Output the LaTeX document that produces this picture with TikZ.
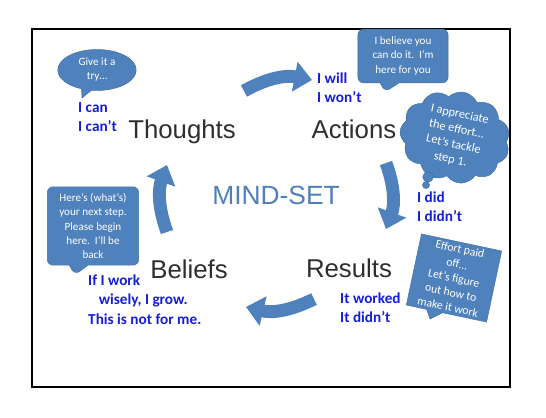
\documentclass[tikz,border=0pt]{standalone}
\usepackage{fontspec}
\setmainfont{Carlito}
\newfontfamily\arialfont{Liberation Sans}
\usetikzlibrary{arrows.meta,shapes.callouts,shapes.symbols}

\definecolor{bubblefill}{HTML}{4F81BD}
\definecolor{bubbleline}{HTML}{41719C}
\definecolor{arrowblue}{HTML}{4F81BD}
\definecolor{mindblue}{HTML}{4F7FBA}
\definecolor{saytext}{RGB}{20,30,215}
\definecolor{wordgray}{HTML}{2E2E2E}

\begin{document}
\begin{tikzpicture}[
    x=0.03cm, y=-0.03cm,
    stage/.style={anchor=base, inner sep=0pt, text=wordgray, font=\arialfont\fontsize{22}{26}\selectfont},
    say/.style={anchor=base west, inner sep=0pt, align=left, text=saytext, font=\bfseries\fontsize{13}{15.5}\selectfont},
    bubble/.style={draw=bubbleline, fill=bubblefill, text=white, align=center, inner sep=2pt, font=\fontsize{9.5}{12}\selectfont},
    turn/.style={line width=11pt, draw=arrowblue, -{Triangle[length=15pt, width=25pt]}}
]
\useasboundingbox (0,0) rectangle (546,418);
\draw[line width=1.7pt] (32,29) rectangle (510,387);

% the four stages
\node[stage] (thoughts) at (182,138) {Thoughts};
\node[stage] (actions) at (354,138) {Actions};
\node[stage] (results) at (349,277) {Results};
\node[stage] (beliefs) at (189,278) {Beliefs};
\node[stage, text=mindblue, font=\arialfont\fontsize{22.5}{26}\selectfont] (mindset) at (276,204) {MIND-SET};

% arrows round the cycle
\coordinate (ta1) at (244,91);
\coordinate (ta2) at (312,80);
\coordinate (ar1) at (386,163);
\coordinate (ar2) at (386,229);
\coordinate (rb1) at (314,299);
\coordinate (rb2) at (246,307);
\coordinate (bt1) at (167,232);
\coordinate (bt2) at (167,165);
\draw[turn] (ta1) to[bend left=20] (ta2);
\draw[turn] (ar1) to[bend left=20] (ar2);
\draw[turn] (rb1) to[bend left=20] (rb2);
\draw[turn] (bt1) to[bend left=20] (bt2);

% what we say (placed by the last line)
\node[say] (can) at (78,131) {I can\\I can’t};
\node[say] (will) at (317,102) {I will\\I won’t};
\node[say] (did) at (417,221) {I did\\I didn’t};
\node[say] (worked) at (340,322) {It worked\\It didn’t};
\node[say, font=\bfseries\fontsize{13}{16.4}\selectfont] (work) at (88,324) {If I work\\\hspace*{9pt}wisely, I grow.\\This is not for me.};

% bubbles
\node[bubble, ellipse callout, minimum width=67pt, minimum height=35pt,
      callout absolute pointer={(82,98)}] (try) at (97,70) {Give it a\\try…};
\node[bubble, rectangle callout, rounded corners=5pt, minimum width=77pt, minimum height=46pt,
      callout pointer width=16pt, callout absolute pointer={(385,92)}] (believe) at (403,56)
      {I believe you\\can do it.\ \ I’m\\here for you};
\node[bubble, rectangle callout, rounded corners=5pt, minimum width=78pt, minimum height=67pt,
      callout pointer width=16pt, callout absolute pointer={(75,275)}] (next) at (93,226)
      {Here’s (what’s)\\your next step.\\Please begin\\here.\ \ I’ll be\\back};
\node[bubble, rectangle callout, rotate=-12, minimum width=70pt, minimum height=62pt, inner sep=1pt,
      font=\fontsize{10}{12.6}\selectfont,
      callout pointer width=14pt, callout absolute pointer={(430,319)}] (effort) at (454,278)
      {Effort paid\\off…\\Let’s figure\\out how to\\make it work};
\node[bubble, cloud, cloud puffs=11, cloud puff arc=110, aspect=1.3, rotate=-12,
      minimum width=92pt, minimum height=68pt, inner sep=0pt, font=\fontsize{10.5}{13}\selectfont] (appreciate) at (455,137)
      {I appreciate\\the effort…\\Let’s tackle\\step 1.};
\node[bubble, circle, minimum size=9pt, inner sep=0pt] (puff1) at (428,177) {};
\node[bubble, circle, minimum size=6pt, inner sep=0pt] (puff2) at (426,185) {};
\end{tikzpicture}
\end{document}
